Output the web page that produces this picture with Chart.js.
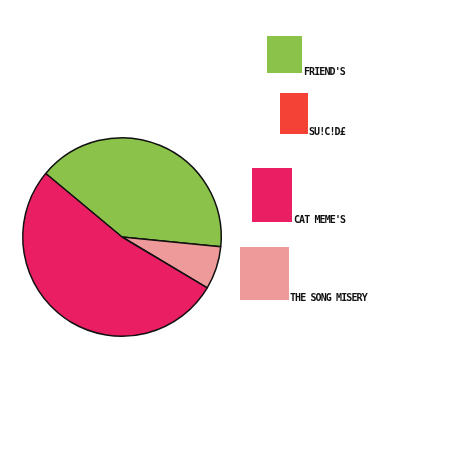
<!DOCTYPE html>
<html>
<head>
<meta charset="utf-8">
<script src="https://cdn.jsdelivr.net/npm/chart.js@4"></script>
<style>
  html, body { margin: 0; padding: 0; background: #ffffff; }
  #wrap { position: relative; width: 474px; height: 474px; overflow: hidden; }
  #chart { position: absolute; left: 0; top: 0; }
  .box { position: absolute; }
  .lbl { position: absolute; font-family: "DejaVu Sans Mono", monospace; font-weight: bold;
         font-size: 10px; line-height: 10px; letter-spacing: -0.9px; color: #111; white-space: nowrap; }
</style>
</head>
<body>
<div id="wrap">
  <canvas id="chart" width="474" height="474"></canvas>
</div>
<script>
// ---- data ----
const categories = ["FRIEND'S", "SU!C!D£", "CAT MEME'S", "THE SONG MISERY"];
const values = [40.5, 0, 52.5, 7];
const colors = ["#8bc34a", "#f44336", "#e91e63", "#ef9a9a"];
// order in which the slices run clockwise round the pie
const pieOrder = [0, 3, 2, 1];

// ---- legend layout (positions only) ----
const legendLayout = [
  { x: 267, y: 36, w: 35, h: 37, tx: 304, tb: 75 },
  { x: 280, y: 93, w: 28, h: 41, tx: 309, tb: 135 },
  { x: 252, y: 168, w: 40, h: 54, tx: 294, tb: 223 },
  { x: 240, y: 247, w: 49, h: 53, tx: 290, tb: 301 }
];

const wrap = document.getElementById('wrap');
categories.forEach((name, i) => {
  const L = legendLayout[i];
  const b = document.createElement('div');
  b.className = 'box';
  b.style.left = L.x + 'px'; b.style.top = L.y + 'px';
  b.style.width = L.w + 'px'; b.style.height = L.h + 'px';
  b.style.background = colors[i];
  wrap.appendChild(b);
  const t = document.createElement('div');
  t.className = 'lbl';
  t.textContent = name;
  t.style.left = L.tx + 'px';
  t.style.top = (L.tb - 8.5) + 'px';
  wrap.appendChild(t);
});

new Chart(document.getElementById('chart'), {
  type: 'pie',
  data: {
    labels: pieOrder.map(i => categories[i]),
    datasets: [{
      data: pieOrder.map(i => values[i]),
      backgroundColor: pieOrder.map(i => colors[i]),
      borderColor: '#111111',
      borderWidth: 1.5
    }]
  },
  options: {
    responsive: false,
    animation: false,
    rotation: -50.2,
    layout: { padding: { left: 22, top: 137, right: 252, bottom: 137 } },
    plugins: { legend: { display: false }, tooltip: { enabled: false } }
  }
});
</script>
</body>
</html>
